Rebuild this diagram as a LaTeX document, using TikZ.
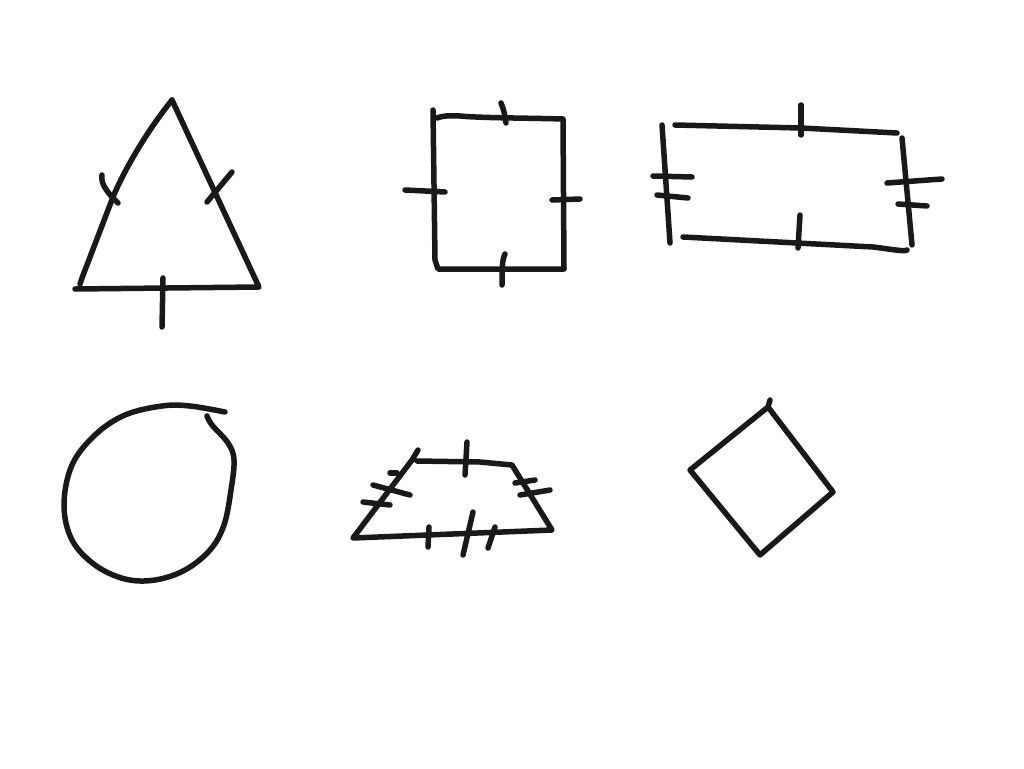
\documentclass[tikz,border=0pt]{standalone}
\begin{document}
\begin{tikzpicture}[x=1pt,y=-1pt,
  ink/.style={line width=5.5pt,line cap=round,line join=round,black!90}]
\useasboundingbox[fill=white] (0,0) rectangle (1024,768);
% triangle
\draw[ink] (172,100) .. controls (140,140) and (120,180) .. (113,197) -- (82,278) -- (80,284);
\draw[ink] (75,289) -- (259,287) -- (172,100);
\draw[ink] (102,175) .. controls (100,185) and (110,195) .. (118,203);
\draw[ink] (232,172) -- (207,202);
\draw[ink] (163,278) -- (162,327);
% square
\draw[ink] (433,110) -- (435,260) -- (438,269) -- (564,269) -- (563,119) .. controls (530,118) and (480,118) .. (460,116) .. controls (445,115) and (440,117) .. (437,118);
\draw[ink] (501,103) .. controls (504,110) and (505,116) .. (506,123);
\draw[ink] (405,190) -- (445,192);
\draw[ink] (552,200) -- (580,199);
\draw[ink] (505,254) .. controls (502,260) and (502,270) .. (502,285);
% rectangle
\draw[ink] (662,125) -- (670,243);
\draw[ink] (675,125) -- (801,128) -- (897,133);
\draw[ink] (902,138) -- (912,245);
\draw[ink] (683,237) -- (797,243) -- (873,247) .. controls (890,249) and (905,252) .. (907,250);
\draw[ink] (801,105) -- (801,135);
\draw[ink] (800,215) -- (798,248);
\draw[ink] (653,176) -- (692,177);
\draw[ink] (657,195) -- (688,198);
\draw[ink] (887,183) -- (942,179);
\draw[ink] (898,204) -- (927,206);
% circle
\draw[ink] plot[smooth,tension=0.6] coordinates {(225,412) (190,406) (162,406) (125,415) (95,435) (72,465) (64,505) (72,540) (95,565) (125,579) (155,580) (185,570) (210,550) (224,525) (231,490) (234,460) (228,443) (212,425) (207,416)};
% trapezoid
\draw[ink] (418,450) -- (412,460) -- (353,538) -- (552,530) -- (512,465) -- (480,462) -- (417,461);
\draw[ink] (467,442) -- (465,475);
\draw[ink] (390,473) -- (397,473);
\draw[ink] (373,485) -- (410,495);
\draw[ink] (363,502) -- (390,505);
\draw[ink] (515,483) -- (535,480);
\draw[ink] (520,495) -- (550,490);
\draw[ink] (429,527) -- (428,547);
\draw[ink] (473,512) -- (463,555);
\draw[ink] (495,527) -- (488,548);
% diamond
\draw[ink] (770,400) -- (768,407) -- (690,470) -- (760,555) -- (833,492) -- (768,407);
\end{tikzpicture}
\end{document}
